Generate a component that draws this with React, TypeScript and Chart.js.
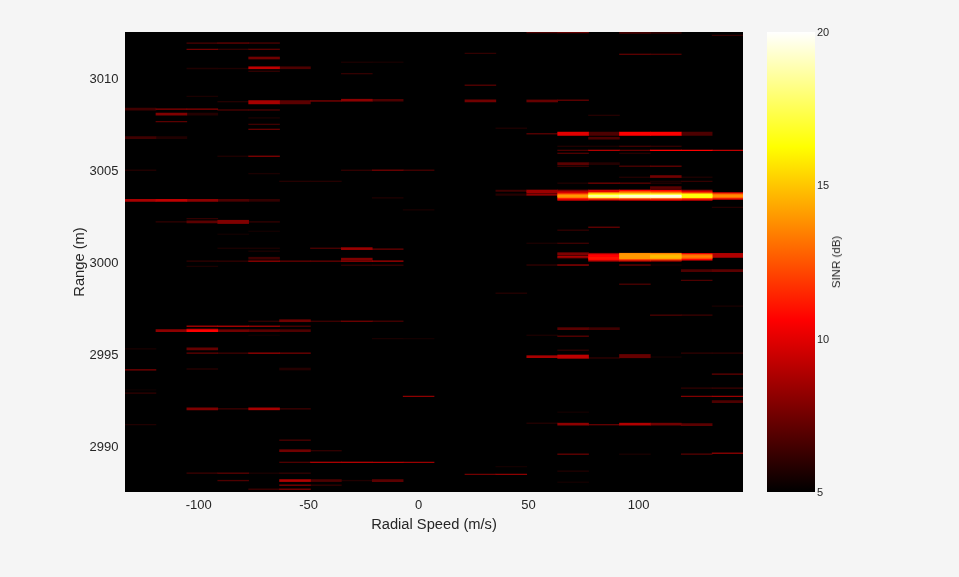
import { useEffect, useRef } from 'react'
import { Chart, registerables } from 'chart.js'
Chart.register(...registerables)

// [range m, number of range rows, first speed column, SINR dB per column (0 = below the colour limit)]
type Row = [number, number, number, number[]]

const speeds = [-126.45, -112.4, -98.35, -84.3, -70.25, -56.2, -42.15, -28.1, -14.05, 0, 14.05, 28.1, 42.15, 56.2, 70.25, 84.3, 98.35, 112.4, 126.45, 140.5]
const rangeTicks = [2990, 2995, 3000, 3005, 3010]
const rowHeight = 0.0722

const leftUpper: Row[] = [
    [3011.9, 1, 2, [6.7, 7.25, 6.7]],
    [3011.56, 1, 2, [7.5, 6.1, 7]],
    [3011.09, 2, 4, [7.5]],
    [3010.86, 1, 7, [5.6, 5.45]],
    [3010.56, 2, 4, [9.2, 6.7]],
    [3010.52, 1, 2, [5.7, 5.7]],
    [3010.37, 1, 4, [6.1]],
    [3010.24, 1, 7, [6.1]],
    [3009.01, 1, 2, [5.6]],
    [3008.8, 2, 7, [8.1, 6.7]],
    [3008.76, 1, 6, [7.8]],
    [3008.72, 1, 3, [5.8]],
    [3008.69, 3, 4, [8.7, 7]],
    [3008.32, 1, 1, [8.1, 8.1]],
    [3008.32, 2, 0, [6.4]],
    [3008.27, 1, 3, [6.7, 6.7]],
    [3008.05, 2, 1, [7.8, 5.8]],
    [3007.84, 1, 4, [5.6]],
    [3007.64, 1, 1, [7]],
    [3007.49, 1, 4, [6.4]],
    [3007.22, 1, 4, [7.25]],
    [3006.77, 2, 0, [6.4, 5.7]],
    [3005.76, 1, 3, [5.7, 7.8]],
    [3005.0, 1, 0, [5.7]],
    [3005.0, 1, 7, [6.1, 7.25, 6.4]],
    [3004.82, 1, 4, [5.6]],
    [3004.4, 1, 5, [5.8, 5.8]],
    [3003.5, 1, 8, [5.7]],
    [3003.37, 2, 0, [8.7, 9.2, 8.1, 6.7, 6.1]],
    [3002.85, 1, 9, [5.6]],
    [3002.38, 1, 2, [6.1]],
    [3002.2, 1, 1, [6.1]],
    [3002.2, 2, 2, [7]],
    [3002.2, 3, 3, [7.8]],
    [3002.2, 1, 4, [6.1]],
    [3001.69, 1, 4, [5.4]],
    [3001.53, 1, 3, [5.4]],
    [3000.77, 1, 3, [5.6, 5.6, 0, 6.7]],
    [3000.75, 2, 7, [8.4]],
    [3000.72, 1, 8, [7.5]],
    [3000.61, 1, 4, [5.6]],
    [3000.23, 2, 4, [6.4]],
    [3000.18, 2, 7, [7.8]],
    [3000.07, 1, 2, [6.1, 6.1, 8.4, 7.25, 7.25, 8.4, 8.9]],
    [2999.85, 1, 7, [6.1, 6.1]],
    [2999.79, 1, 2, [5.6]],
]

const leftLower: Row[] = [
    [2996.84, 2, 5, [7.5]],
    [2996.81, 1, 4, [6.1]],
    [2996.81, 1, 6, [6.4, 7.5, 6.4]],
    [2996.54, 1, 2, [8.4, 8.9, 8.4, 6.7]],
    [2996.38, 1, 2, [7.25]],
    [2996.3, 2, 1, [8.1, 10.6, 7.5, 7, 6.7]],
    [2996.05, 1, 4, [5.3]],
    [2995.87, 1, 8, [5.6, 5.45]],
    [2995.31, 1, 0, [5.6]],
    [2995.31, 2, 2, [7.25]],
    [2995.08, 1, 2, [7.25, 6.4, 8.4, 7.5]],
    [2994.22, 1, 2, [5.8]],
    [2994.22, 2, 5, [5.8]],
    [2994.17, 1, 0, [7.8]],
    [2993.09, 1, 0, [5.3]],
    [2992.91, 1, 0, [6.1]],
    [2992.74, 1, 9, [8.1]],
    [2992.06, 2, 2, [7.8]],
    [2992.06, 1, 3, [6.4]],
    [2992.06, 2, 4, [8.7]],
    [2992.06, 1, 5, [6.4]],
    [2991.2, 1, 0, [5.7]],
    [2990.36, 1, 5, [6.7]],
    [2989.79, 2, 5, [7.5]],
    [2989.79, 1, 6, [6.1]],
    [2989.16, 1, 5, [6.7, 8.7, 8.9, 8.9, 8.4]],
    [2988.57, 1, 2, [6.4, 7, 5.6, 6.1]],
    [2988.17, 1, 3, [6.7]],
    [2988.17, 2, 5, [8.9, 6.7]],
    [2988.17, 1, 7, [5.7]],
    [2988.17, 2, 8, [7]],
    [2987.92, 1, 5, [7.8, 6.1]],
    [2987.7, 1, 4, [6.4, 7.8]],
]

const rightUpper: Row[] = [
    [3012.47, 1, 13, [6.7, 7.25]],
    [3012.45, 1, 16, [7, 6.4]],
    [3012.32, 1, 19, [6.1]],
    [3011.34, 1, 11, [6.1]],
    [3011.29, 1, 16, [7, 6.7]],
    [3009.61, 1, 11, [6.7]],
    [3008.8, 1, 14, [7.25]],
    [3008.76, 2, 11, [7.5]],
    [3008.76, 2, 13, [7.25]],
    [3007.98, 1, 15, [5.8]],
    [3007.28, 1, 12, [5.6]],
    [3006.98, 1, 13, [7]],
    [3006.98, 3, 14, [10, 6.7, 10.6, 10.6, 6.7]],
    [3006.74, 2, 15, [6.7]],
    [3006.3, 1, 14, [5.7, 5.6, 6.4, 6.1]],
    [3006.08, 1, 14, [6.7, 8.9, 7.25, 10.6, 10.6, 9.2]],
    [3005.92, 1, 14, [6.7, 0, 5.8]],
    [3005.36, 2, 14, [7, 5.8]],
    [3005.22, 1, 14, [6.4, 0, 6.7, 7.25]],
    [3004.66, 2, 17, [7.5]],
    [3004.62, 1, 16, [5.8]],
    [3004.62, 1, 18, [5.6]],
    [3004.4, 1, 17, [5.6, 6.1]],
    [3004.3, 1, 14, [5.7, 7.5, 7, 5.8]],
    [3004.06, 2, 17, [7]],
]

const upperBand: Row[] = [
    [3003.89, 1.6, 12, [6.4, 8.4, 7.8, 9.8, 10.6, 10.6, 8.4]],
    [3003.82, 1.6, 13, [8.4, 9, 10, 12.3, 11.7, 9.8]],
    [3003.75, 1.6, 13, [6.1, 10, 14, 14, 14, 12.3, 10]],
    [3003.68, 1.6, 12, [5.8, 8.1, 12.9, 16.3, 16.8, 17, 16.3, 12.9]],
    [3003.61, 1.6, 14, [14, 18.5, 19.3, 19.7, 16.5, 13.7]],
    [3003.54, 1.6, 14, [13.4, 17.4, 18.5, 18.9, 16.2, 12.9]],
    [3003.46, 1.6, 14, [10.6, 11.7, 11.7, 11.7, 11.2, 10]],
    [3003.39, 1.6, 14, [8.4, 7.8, 8.4, 8.9, 8.4]],
    [3002.99, 1, 19, [5.8]],
    [3001.91, 1, 15, [7.25]],
    [3001.75, 1, 14, [6.1]],
    [3001.04, 1, 13, [5.6, 6.4]],
]

const lowerBand: Row[] = [
    [3000.53, 1, 14, [6.7]],
    [3000.46, 1.6, 14, [7.8, 8.4, 13.7, 13.4, 10, 8.7]],
    [3000.39, 1.6, 14, [5.8, 10.6, 14, 14.6, 13, 8.9]],
    [3000.31, 1.6, 14, [8.7, 10.6, 14, 14.8, 13.4, 8.9]],
    [3000.24, 1.6, 14, [6.1, 11, 13.9, 14.3, 12.3]],
    [3000.17, 1.6, 15, [10.8, 12, 12.3, 10.6]],
    [3000.1, 1.6, 15, [8.4, 8.9, 8.4]],
    [2999.86, 1, 13, [6.1, 8.4, 0, 7.25, 5.4]],
    [2999.56, 2, 18, [6.7, 7]],
]

const rightLower: Row[] = [
    [2999.03, 1, 18, [6.7]],
    [2998.82, 1, 16, [6.7]],
    [2998.33, 1, 12, [5.7]],
    [2997.63, 1, 19, [5.6]],
    [2997.14, 1, 17, [6.7, 6.4]],
    [2996.41, 2, 14, [7, 6.4]],
    [2996.05, 1, 13, [5.6]],
    [2996.0, 1, 14, [7]],
    [2995.24, 1, 14, [6.1]],
    [2995.08, 1, 18, [6.1, 6.1]],
    [2994.92, 3, 16, [7.25]],
    [2994.89, 2, 13, [8.7]],
    [2994.89, 3, 14, [9.2]],
    [2994.87, 1, 17, [5.45]],
    [2994.82, 1, 15, [6.1]],
    [2993.94, 1, 19, [7.25]],
    [2993.18, 1, 18, [6.1, 6.4]],
    [2992.74, 1, 18, [7.8, 8.4]],
    [2992.45, 2, 19, [6.7]],
    [2991.88, 1, 14, [5.45]],
    [2991.28, 1, 13, [5.8]],
    [2991.23, 2, 14, [8.1]],
    [2991.2, 1, 15, [7.25]],
    [2991.23, 2, 16, [8.9]],
    [2991.23, 2, 17, [7.5]],
    [2991.2, 2, 18, [7]],
    [2989.65, 1, 19, [7.8]],
    [2989.6, 1, 14, [7.25, 0, 5.6, 0, 7]],
    [2988.93, 1, 12, [5.45]],
    [2988.68, 1, 14, [5.7]],
    [2988.51, 1, 11, [7.5, 8.1]],
    [2988.08, 1, 14, [5.45]],
]

const sinrMin = 5
const sinrMax = 20
const textColor = '#262626'
const fontFamily = '"Liberation Sans", Arial, sans-serif'

// matlab style "hot" colormap
function hot(t: number) {
    const c = (v: number) => Math.round(Math.max(0, Math.min(1, v)) * 255)
    return `rgb(${c(t / 0.375)},${c((t - 0.375) / 0.375)},${c((t - 0.75) / 0.25)})`
}

const rows = [...leftUpper, ...leftLower, ...rightUpper, ...upperBand, ...lowerBand, ...rightLower]
// weak cells first so the strong ones paint over their edges
const cells = rows
    .flatMap(([range, count, first, values]) =>
        values
            .map((sinr, i) => ({ x: speeds[first + i], y: [range - count * rowHeight / 2, range + count * rowHeight / 2], sinr }))
            .filter(c => c.sinr > 0)
    )
    .sort((a, b) => a.sinr - b.sinr)

const blackPlot = {
    id: 'blackPlot',
    beforeDatasetsDraw(chart: Chart) {
        const { ctx, chartArea: a } = chart
        ctx.save()
        ctx.fillStyle = '#000'
        ctx.fillRect(a.left, a.top, a.width, a.height)
        ctx.restore()
    },
}

export default function App() {
    const mapRef = useRef<HTMLCanvasElement>(null)
    const barRef = useRef<HTMLCanvasElement>(null)

    useEffect(() => {
        const map = new Chart(mapRef.current!, {
            type: 'bar',
            data: {
                datasets: [{
                    data: cells as any,
                    backgroundColor: cells.map(c => hot((c.sinr - sinrMin) / (sinrMax - sinrMin))),
                    borderWidth: 0,
                    inflateAmount: 0,
                    barPercentage: 1.02,
                    categoryPercentage: 1,
                }],
            },
            options: {
                responsive: false,
                animation: false,
                layout: { padding: { left: 71.6, top: 32, right: 216, bottom: 43.6 } },
                plugins: { legend: { display: false }, tooltip: { enabled: false } },
                scales: {
                    x: {
                        type: 'linear',
                        offset: false,
                        min: -133.5,
                        max: 147.5,
                        grid: { display: false, drawTicks: false },
                        border: { display: false },
                        afterFit: (s: any) => { s.height = 41.4 },
                        title: { display: true, text: 'Radial Speed (m/s)', color: textColor, padding: 0, font: { family: fontFamily, size: 14.7 } },
                        ticks: {
                            stepSize: 50,
                            includeBounds: false,
                            maxRotation: 0,
                            padding: 6,
                            color: textColor,
                            font: { family: fontFamily, size: 13 },
                            callback: (v: any) => String(v),
                        },
                    },
                    y: {
                        type: 'linear',
                        min: 2987.55,
                        max: 3012.5,
                        grid: { display: false, drawTicks: false },
                        border: { display: false },
                        afterFit: (s: any) => { s.width = 53.4 },
                        afterBuildTicks: (s: any) => { s.ticks = rangeTicks.map(value => ({ value })) },
                        title: { display: true, text: 'Range (m)', color: textColor, padding: 0, font: { family: fontFamily, size: 14.7 } },
                        ticks: {
                            padding: 6.5,
                            labelOffset: 1,
                            color: textColor,
                            font: { family: fontFamily, size: 13 },
                            callback: (v: any) => String(v),
                        },
                    },
                },
            },
            plugins: [blackPlot],
        })

        const colorbar = new Chart(barRef.current!, {
            type: 'bar',
            data: {
                labels: ['SINR'],
                datasets: [{
                    data: [[sinrMin, sinrMax]] as any,
                    borderWidth: 0,
                    barPercentage: 1,
                    categoryPercentage: 1,
                    backgroundColor: (c: any) => {
                        const a = c.chart.chartArea
                        if (!a) return 'black'
                        const g = c.chart.ctx.createLinearGradient(0, a.bottom, 0, a.top)
                        for (const t of [0, 0.375, 0.75, 1]) g.addColorStop(t, hot(t))
                        return g
                    },
                }],
            },
            options: {
                responsive: false,
                animation: false,
                layout: { padding: { left: 7, top: 32, right: 0, bottom: 85 } },
                plugins: { legend: { display: false }, tooltip: { enabled: false } },
                scales: {
                    x: { display: false },
                    y: {
                        position: 'right',
                        min: sinrMin,
                        max: sinrMax,
                        grid: { display: false, drawTicks: false },
                        border: { display: false },
                        afterFit: (s: any) => { s.width = 30 },
                        ticks: {
                            stepSize: 5,
                            padding: 2,
                            labelOffset: 1,
                            color: textColor,
                            font: { family: fontFamily, size: 11 },
                        },
                    },
                },
            },
        })

        return () => {
            map.destroy()
            colorbar.destroy()
        }
    }, [])

    return (
        <div style={{ position: 'fixed', left: 0, top: 0, width: 959, height: 577, background: '#f5f5f5', overflow: 'hidden' }}>
            <canvas ref={mapRef} width={959} height={577} style={{ position: 'absolute', left: 0, top: 0 }} />
            <canvas ref={barRef} width={85} height={577} style={{ position: 'absolute', left: 760, top: 0 }} />
            <div style={{
                position: 'absolute', left: 836, top: 262, color: textColor, fontFamily, fontSize: 11.5,
                whiteSpace: 'nowrap', transform: 'translate(-50%, -50%) rotate(-90deg)',
            }}>
                SINR (dB)
            </div>
        </div>
    )
}
